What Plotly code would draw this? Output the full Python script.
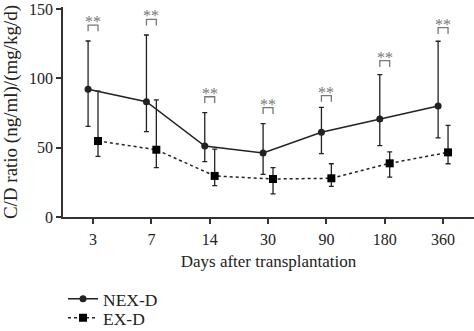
import plotly.graph_objects as go

days = ["3", "7", "14", "30", "90", "180", "360"]
nex_mean = [92.1, 83.1, 51.2, 46.1, 61.1, 70.7, 80.0]
nex_upper = [126.9, 131.2, 75.2, 67.3, 79.1, 102.6, 126.7]
nex_lower = [65.4, 61.5, 39.9, 30.8, 45.7, 51.4, 57.0]
ex_mean = [54.8, 48.5, 29.6, 27.4, 27.9, 38.7, 46.6]
ex_upper = [90.8, 84.4, 49.0, 35.6, 38.4, 46.9, 66.1]
ex_lower = [43.7, 35.6, 22.6, 16.6, 22.1, 28.8, 38.4]
sig_height = [138.4, 142.5, 86.7, 78.8, 87.5, 112.7, 136.5]
sig_label = ["**"] * 7

FONT = "Liberation Serif, Times New Roman, serif"
DARK = "#222222"
GRAY = "#777777"
off = 0.085
idx = list(range(len(days)))
x_nex = [i - off for i in idx]
x_ex = [i + off for i in idx]

fig = go.Figure()

fig.add_trace(go.Scatter(
    x=x_nex, y=nex_mean, name="NEX-D", mode="lines+markers", legend="legend",
    line=dict(color=DARK, width=1.5),
    marker=dict(symbol="circle", size=7, color=DARK),
    error_y=dict(type="data", symmetric=False,
                 array=[u - m for u, m in zip(nex_upper, nex_mean)],
                 arrayminus=[m - l for m, l in zip(nex_mean, nex_lower)],
                 color=DARK, thickness=1.3, width=2.5),
))
fig.add_trace(go.Scatter(
    x=x_ex, y=ex_mean, name="EX-D", mode="lines+markers", legend="legend2",
    line=dict(color=DARK, width=1.5, dash="dot"),
    marker=dict(symbol="square", size=8, color="#000000"),
    error_y=dict(type="data", symmetric=False,
                 array=[u - m for u, m in zip(ex_upper, ex_mean)],
                 arrayminus=[m - l for m, l in zip(ex_mean, ex_lower)],
                 color=DARK, thickness=1.3, width=2.5),
))

# significance brackets
bx, by = [], []
drop = 4.5
for i, h in zip(idx, sig_height):
    bx += [i - off, i - off, i + off, i + off, None]
    by += [h - drop, h, h, h - drop, None]
fig.add_trace(go.Scatter(x=bx, y=by, mode="lines", showlegend=False,
                         line=dict(color=GRAY, width=1.3), hoverinfo="skip"))
for i, h, s in zip(idx, sig_height, sig_label):
    fig.add_annotation(x=i, y=h, text=s, showarrow=False, yanchor="bottom",
                       yshift=-7, font=dict(family=FONT, size=16, color=GRAY))

leg_common = dict(x=0.0, xanchor="left", yanchor="middle",
                  font=dict(family=FONT, size=17.5, color=DARK),
                  bgcolor="rgba(0,0,0,0)")

fig.update_layout(
    width=474, height=331,
    margin=dict(l=63, r=0, t=7, b=114, autoexpand=False),
    paper_bgcolor="white", plot_bgcolor="white",
    font=dict(family=FONT, size=16, color=DARK),
    showlegend=True,
    legend=dict(y=-0.39, **leg_common),
    legend2=dict(y=-0.48, **leg_common),
    xaxis=dict(range=[-0.515, 6.53], tickvals=idx, ticktext=days,
               showgrid=False, zeroline=False, showline=True,
               linecolor="#333333", linewidth=1.5, ticks="outside",
               ticklen=5, tickwidth=1.5, tickcolor="#333333",
               ticklabelstandoff=2,
               title=dict(text="Days after transplantation", standoff=8,
                          font=dict(size=17)),
               tickfont=dict(size=16)),
    yaxis=dict(range=[0, 151.4], tickvals=[0, 50, 100, 150],
               showgrid=False, zeroline=False, showline=True,
               linecolor="#333333", linewidth=1.5, ticks="outside",
               ticklen=5, tickwidth=1.5, tickcolor="#333333",
               title=dict(text="C/D ratio (ng/ml)/(mg/kg/d)", standoff=6),
               tickfont=dict(size=16)),
)

fig.write_html("out.html")
